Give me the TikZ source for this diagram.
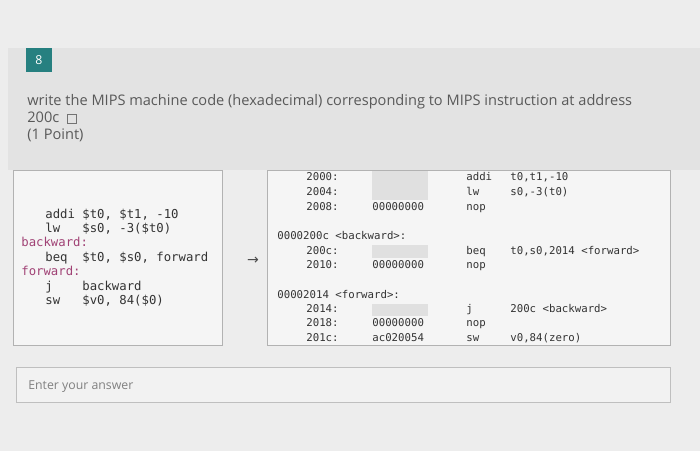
\documentclass[tikz,border=0pt]{standalone}
\usepackage{fontspec}
\setmainfont{Open Sans}
\setmonofont{DejaVu Sans Mono}
\newfontfamily\djv{DejaVu Sans}
\begin{document}
\begin{tikzpicture}[x=0.02cm,y=-0.02cm,
  q/.style={anchor=base west,inner sep=0,text=black!65,font=\fontsize{8.3}{10}\selectfont},
  lc/.style={anchor=base west,inner sep=0,text=black!80,font=\fontsize{7}{8}\ttfamily},
  rc/.style={anchor=base west,inner sep=0,text=black!80,font=\fontsize{6.1}{7}\ttfamily},
  ra/.style={anchor=base east,inner sep=0,text=black!80,font=\fontsize{6.1}{7}\ttfamily},
  lab/.style={lc,text=magenta!60!black},
  ph/.style={fill=black!12,draw=none}]
\useasboundingbox (0,0) rectangle (700,451);
\fill[black!7] (0,0) rectangle (700,451);
\fill[black!11] (8,48) rectangle (700,170);
\node[fill=teal!70!gray,text=white,minimum width=26*0.02cm,minimum height=24*0.02cm,inner sep=0,font=\fontsize{7}{8}\selectfont] (badge) at (39,60) {8};
\node[q] (q1) at (27,105) {write the MIPS machine code (hexadecimal) corresponding to MIPS instruction at address};
\node[q] (q2) at (27,122) {200c};
\draw[black!55,line width=0.4pt] (67,114) rectangle (76,123);
\node[q] (q3) at (27,139) {(1 Point)};
% boxes
\draw[black!30,fill=black!4] (13,170) rectangle (222,345);
\draw[black!30,fill=black!4] (267,170) rectangle (670,345);
\node[anchor=base,inner sep=0,text=black!70,font=\djv\fontsize{8}{9}\selectfont] (arr) at (253,264) {→};
% left code
\node[lc] (l1) at (45,218) {addi \$t0, \$t1, -10};
\node[lc] (l2) at (45,232) {lw \ \ \$s0, -3(\$t0)};
\node[lab] (l3) at (21,246) {backward:};
\node[lc] (l4) at (45,261) {beq \ \$t0, \$s0, forward};
\node[lab] (l5) at (21,275) {forward:};
\node[lc] (l6) at (45,290) {j \ \ \ backward};
\node[lc] (l7) at (45,304) {sw \ \ \$v0, 84(\$0)};
% placeholders
\fill[ph] (372,171) rectangle (428,200);
\fill[ph] (372,245) rectangle (428,258);
\fill[ph] (372,304) rectangle (428,316);
% right code
\foreach \y/\a/\h/\m/\o [count=\i] in {180/2000:/{}/addi/{t0,t1,-10},195/2004:/{}/lw/{s0,-3(t0)},210/2008:/00000000/nop/{},
  254/200c:/{}/beq/{t0,s0,2014 <forward>},268/2010:/00000000/nop/{},
  312/2014:/{}/j/{200c <backward>},326/2018:/00000000/nop/{},341/201c:/ac020054/sw/{v0,84(zero)}}{
  \node[ra] (a\i) at (339,\y) {\a};
  \node[rc] (h\i) at (372,\y) {\h};
  \node[rc] (m\i) at (466,\y) {\m};
  \node[rc] (o\i) at (510,\y) {\o};
}
\node[rc] (s1) at (277,239) {0000200c <backward>:};
\node[rc] (s2) at (277,298) {00002014 <forward>:};
% answer box
\draw[black!25,fill=black!5] (16,367) rectangle (670,402);
\node[q,text=black!50,font=\fontsize{7}{8}\selectfont] (ans) at (28,389) {Enter your answer};
\end{tikzpicture}
\end{document}
